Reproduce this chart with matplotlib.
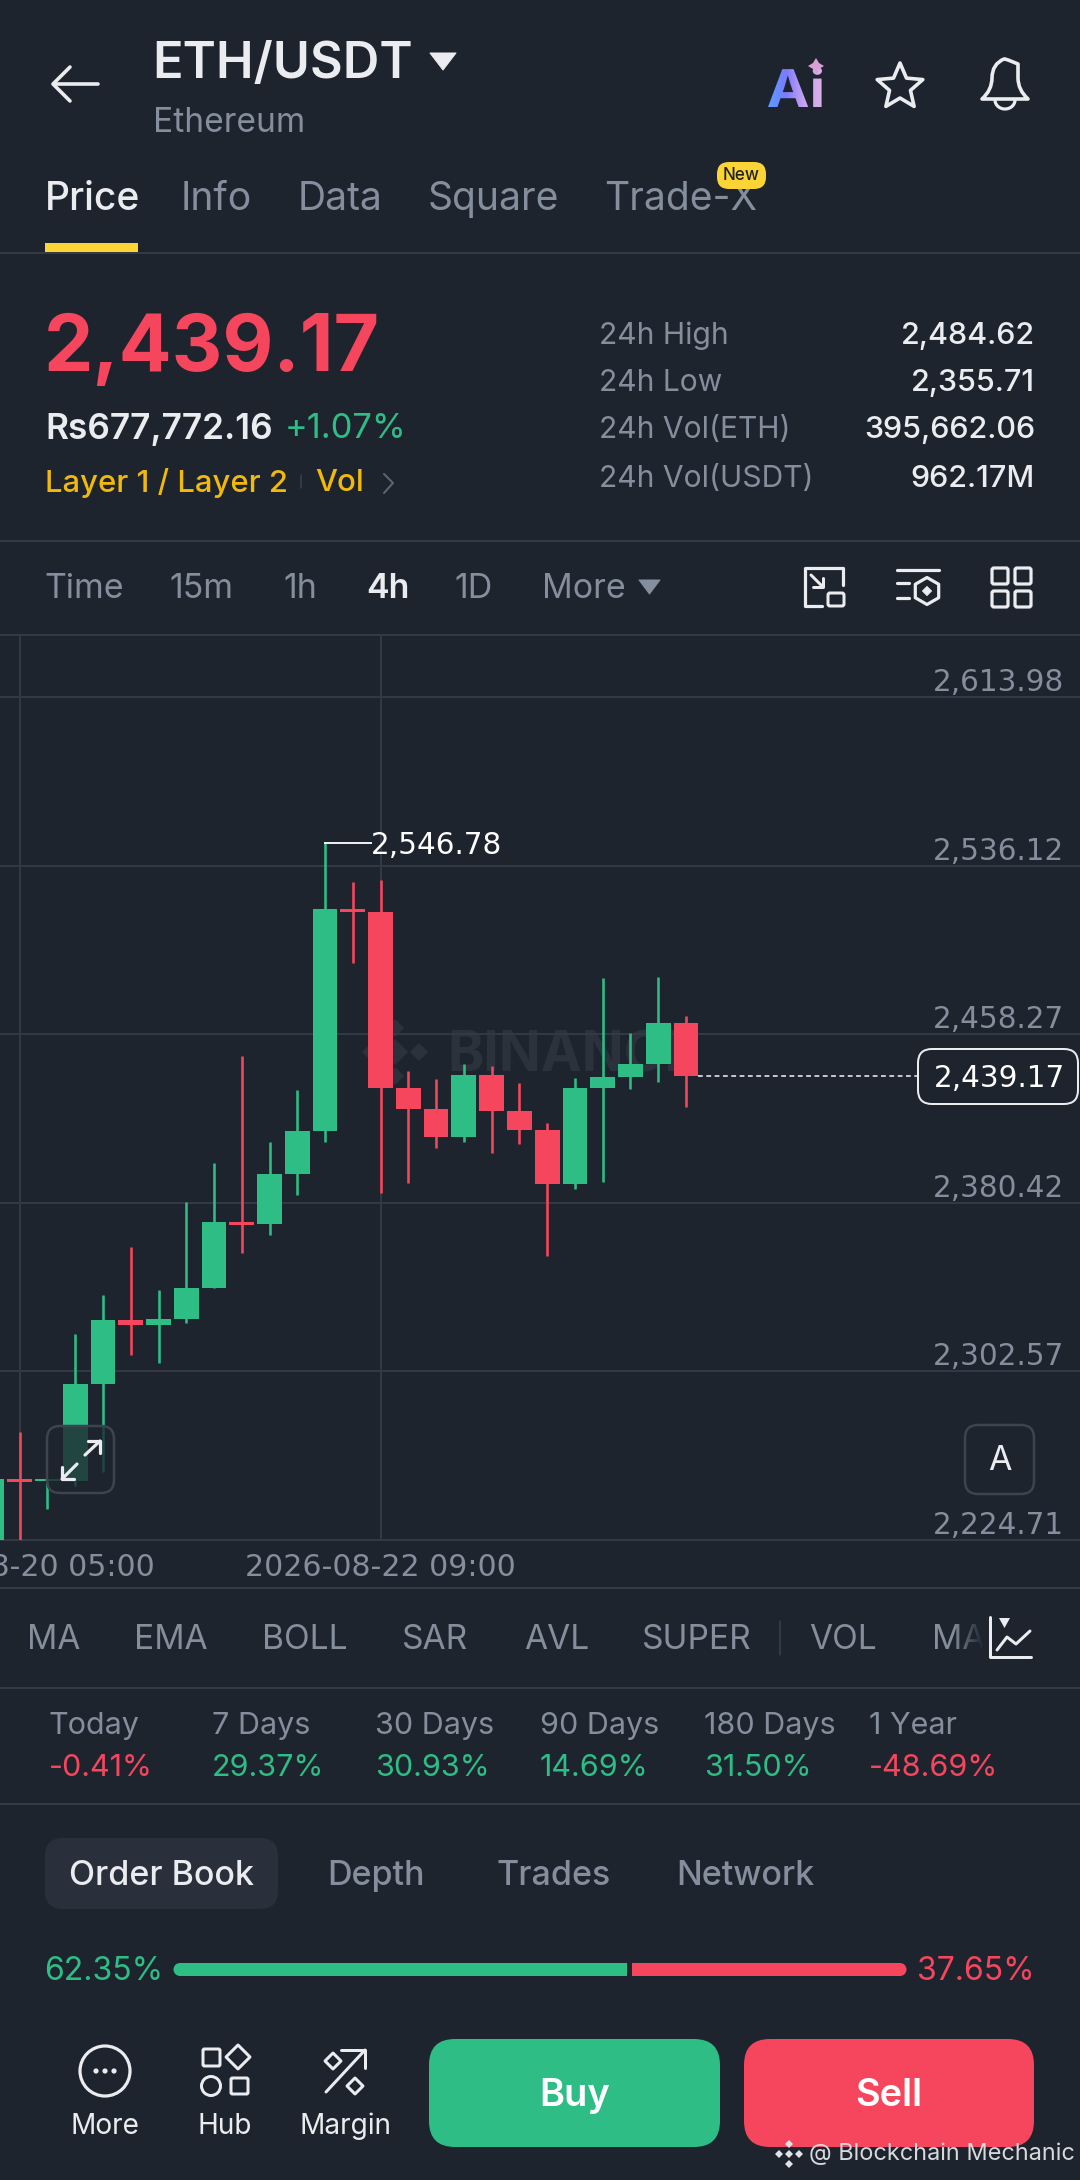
import numpy as np
import matplotlib
matplotlib.use("Agg")
import matplotlib.pyplot as plt
from matplotlib.patches import FancyBboxPatch, Circle, Polygon, Rectangle, PathPatch
from matplotlib.path import Path
from matplotlib.textpath import TextPath
from matplotlib.font_manager import FontProperties

plt.rcParams['font.family'] = ['Inter', 'Noto Sans', 'DejaVu Sans']

# ---- data ----
opens  = [2215.0, 2252.9, 2251.8, 2252.2, 2296.7, 2326.5, 2324.0, 2326.9, 2341.2, 2371.7, 2370.6, 2393.8, 2413.5,
          2516.2, 2514.8, 2433.4, 2424.0, 2411.0, 2439.5, 2422.7, 2414.0, 2389.3, 2433.6, 2438.8, 2444.8, 2463.4]
closes = [2253.1, 2251.5, 2252.7, 2296.7, 2326.5, 2324.0, 2326.9, 2341.2, 2371.7, 2370.1, 2393.8, 2413.5, 2516.2,
          2514.8, 2433.4, 2424.0, 2411.0, 2439.5, 2422.7, 2414.0, 2389.3, 2433.6, 2438.8, 2444.8, 2463.4, 2439.17]
highs  = [2253.1, 2274.6, 2252.7, 2320.0, 2338.1, 2360.3, 2340.1, 2381.1, 2398.7, 2448.2, 2408.6, 2432.5, 2546.78,
          2528.7, 2529.8, 2441.2, 2437.7, 2444.6, 2443.7, 2435.7, 2417.3, 2438.3, 2484.2, 2459.1, 2484.6, 2466.7]
lows   = [2215.0, 2220.0, 2239.0, 2249.5, 2256.2, 2310.4, 2306.6, 2325.1, 2341.2, 2357.1, 2365.4, 2384.0, 2408.8,
          2491.1, 2384.9, 2389.6, 2405.7, 2408.8, 2403.4, 2407.9, 2355.8, 2386.9, 2390.0, 2433.0, 2436.3, 2424.7]
price_ticks = [2613.98, 2536.12, 2458.27, 2380.42, 2302.57, 2224.71]
time_ticks = [1, 14]
time_labels = ['2026-08-20 05:00', '2026-08-22 09:00']
last_price = 2439.17
peak_price = 2546.78

stats_labels = ['24h High', '24h Low', '24h Vol(ETH)', '24h Vol(USDT)']
stats_values = ['2,484.62', '2,355.71', '395,662.06', '962.17M']
tab_names = ['Price', 'Info', 'Data', 'Square', 'Trade-X']
range_names = ['Time', '15m', '1h', '4h', '1D', 'More']
indicator_names = ['MA', 'EMA', 'BOLL', 'SAR', 'AVL', 'SUPER', 'VOL', 'MA']
period_names = ['Today', '7 Days', '30 Days', '90 Days', '180 Days', '1 Year']
period_values = [-0.41, 29.37, 30.93, 14.69, 31.50, -48.69]
book_tabs = ['Order Book', 'Depth', 'Trades', 'Network']
bid_pct = 62.35
ask_pct = 37.65

BG = '#1e242e'
GREEN = '#2ebd85'
RED = '#f6465d'
GREY = '#848e9c'
WHITE = '#eaecef'
GRID = '#323945'
DIV = '#333a45'
YELLOW = '#f0b90b'
NUMFONT = 'DejaVu Sans'

W, H = 1080, 2180
fig = plt.figure(figsize=(W / 100, H / 100), dpi=100, facecolor=BG)

# background layer (chart watermark)
bg = fig.add_axes([0, 0, 1, 1], zorder=0)
bg.set_xlim(0, W); bg.set_ylim(H, 0); bg.axis('off')


def px(v):
    return v * 0.72


for dx, dy, s in [(0, 0, 13), (-24, 0, 9), (24, 0, 9), (0, -24, 9), (0, 24, 9)]:
    bg.add_patch(Polygon([(395 + dx - s, 1052 + dy), (395 + dx, 1052 + dy - s), (395 + dx + s, 1052 + dy), (395 + dx, 1052 + dy + s)],
                         fc='#2b323c', ec='none'))
bg.text(447, 1057, 'BINANCE', fontsize=px(55), color='#2b323c', fontweight='bold', va='center', ha='left')
tag = FancyBboxPatch((918, 1049), 160, 55, boxstyle='round,pad=0,rounding_size=14', fc=BG, ec=WHITE, lw=px(2), zorder=5)
bg.add_patch(tag)

# ---- candle chart ----
top_px, bot_px = 635, 1540
units_per_px = 77.85 / 168.5
ax = fig.add_axes([0, (H - bot_px) / H, 1, (bot_px - top_px) / H], zorder=1, facecolor='none')
ymin = 2224.71
ymax = ymin + (bot_px - top_px) * units_per_px
step = 27.76
xmin = 1 - 19.7 / step
xmax = xmin + W / step
ax.set_xlim(xmin, xmax)
ax.set_ylim(ymin, ymax)

xs = np.arange(len(opens))
colors = [GREEN if c >= o else RED for o, c in zip(opens, closes)]
ax.vlines(xs, lows, highs, colors=colors, linewidth=px(2.6), zorder=3)
ax.bar(xs, np.abs(np.array(closes) - np.array(opens)), bottom=np.minimum(opens, closes),
       width=0.893, color=colors, linewidth=0, zorder=4)

ax.set_yticks(price_ticks)
ax.set_yticklabels([f'{v:,.2f}' for v in price_ticks], family=NUMFONT)
ax.yaxis.tick_right()
ax.tick_params(axis='y', length=0, pad=-11.5, labelsize=px(29.5), labelcolor=GREY)
for lab in ax.get_yticklabels():
    lab.set_ha('right')
    lab.set_va('bottom')
ax.set_xticks(time_ticks)
ax.set_xticklabels(time_labels, family=NUMFONT)
ax.tick_params(axis='x', length=0, pad=9.5, labelsize=px(30), labelcolor=GREY)
ax.grid(True, color=GRID, linewidth=px(2), zorder=1)
for name, sp in ax.spines.items():
    sp.set_visible(name in ('top', 'bottom'))
    sp.set_color(GRID)
    sp.set_linewidth(px(2))

# peak marker
peak_x = int(np.argmax(highs))
ax.plot([peak_x, peak_x + 46 / step], [peak_price, peak_price], color=WHITE, lw=px(2), zorder=3)
ax.text(peak_x + 46 / step, peak_price, f'{peak_price:,.2f}', color='white', fontsize=px(29.5), family=NUMFONT,
        va='center_baseline', ha='left', zorder=5)

# last price dashed line & tag text
tag_x = xmin + 918 / W * (xmax - xmin)
ax.plot([xs[-1] + 0.45, tag_x], [last_price, last_price], color=WHITE, lw=px(1.6), dashes=(3, 2.2), zorder=3)
ax.text(1065 / W, last_price, f'{last_price:,.2f}', transform=ax.get_yaxis_transform(), color='white',
        fontsize=px(29.5), family=NUMFONT, ha='right', va='center_baseline', zorder=6)

# ---- UI overlay ----
ui = fig.add_axes([0, 0, 1, 1], zorder=3, facecolor='none')
ui.set_xlim(0, W); ui.set_ylim(H, 0); ui.axis('off')


def T(x, y, s, size, color=WHITE, ha='left', weight='normal', z=5):
    return ui.text(x, y + 5, s, fontsize=px(size), color=color, ha=ha, va='center', fontweight=weight, zorder=z)


def L(pts, lw=3, color=WHITE, z=5):
    a = np.array(pts, float)
    ui.plot(a[:, 0], a[:, 1], color=color, lw=px(lw), solid_capstyle='round', solid_joinstyle='round', zorder=z)


def RR(x0, y0, x1, y1, r, fc='none', ec='none', lw=0, z=4):
    ui.add_patch(FancyBboxPatch((x0, y0), x1 - x0, y1 - y0, boxstyle=f'round,pad=0,rounding_size={r}',
                                fc=fc, ec=ec, lw=px(lw), zorder=z))


def diamond(cx, cy, r, fc='none', ec=WHITE, lw=3, z=5):
    ui.add_patch(Polygon([(cx - r, cy), (cx, cy - r), (cx + r, cy), (cx, cy + r)], closed=True, fc=fc, ec=ec, lw=px(lw),
                         joinstyle='round', zorder=z))


# header
L([(98, 84), (54, 84)], 3.6)
L([(70, 67), (53, 84), (70, 101)], 3.6)
T(152, 60, 'ETH/USDT', 50.5, WHITE, weight='semibold')
ui.add_patch(Polygon([(430, 53), (456, 53), (443, 70)], fc=WHITE, ec=WHITE, lw=px(1), joinstyle='round'))
T(153, 118, 'Ethereum', 33.5, GREY)

# Ai logo with gradient
grad = np.linspace(0, 1, 64).reshape(1, -1)
fp = FontProperties(family='Inter', weight='bold', size=52)
cmap = matplotlib.colors.LinearSegmentedColormap.from_list('ai', ['#5b9dff', '#7a7bff', '#c9a3f0', '#d9aee8'])
tp = TextPath((0, 0), 'Ai', prop=fp)
bb = tp.get_extents()
sx = (822 - 768) / bb.width
sy = (107 - 67) / bb.height
verts = np.column_stack([768 + (tp.vertices[:, 0] - bb.x0) * sx, 107 - (tp.vertices[:, 1] - bb.y0) * sy])
clip = PathPatch(Path(verts, tp.codes), fc='none', ec='none', transform=ui.transData)
ui.add_patch(clip)
im = ui.imshow(grad, extent=(768, 822, 107, 60), cmap=cmap, aspect='auto', zorder=5)
im.set_clip_path(clip)
ui.add_patch(Polygon([(816, 58), (819, 63), (824, 66), (819, 69), (816, 74), (813, 69), (808, 66), (813, 63)], fc='#d9a0d8', ec='none', zorder=6))
ui.set_xlim(0, W); ui.set_ylim(H, 0)

# star
ang = np.deg2rad(np.arange(0, 360, 36) - 90)
rad = np.where(np.arange(10) % 2 == 0, 24, 11)
ui.add_patch(Polygon(np.column_stack([900 + rad * np.cos(ang), 87 + rad * np.sin(ang)]), closed=True, fc='none', ec=WHITE,
                     lw=px(3.6), joinstyle='round', zorder=5))
# bell
bell = Path([(982, 99), (992, 90), (992, 78), (992, 78), (992, 64), (1004, 59), (1005, 59), (1006, 59), (1018, 64), (1018, 78),
             (1018, 90), (1028, 99), (1028, 99), (982, 99)],
            [Path.MOVETO, Path.CURVE3, Path.CURVE3, Path.LINETO, Path.CURVE3, Path.CURVE3, Path.LINETO, Path.CURVE3, Path.CURVE3,
             Path.LINETO, Path.CURVE3, Path.CURVE3, Path.LINETO, Path.CLOSEPOLY])
ui.add_patch(PathPatch(bell, fc='none', ec=WHITE, lw=px(3.6), joinstyle='round', zorder=5))
t = np.linspace(0, np.pi, 20)
L(np.column_stack([1005 + 10 * np.cos(t), 100 + 9 * np.sin(t)]), 3.2)

# tabs
for name, x in zip(tab_names, [45, 181, 298, 428, 604]):
    T(x, 194, name, 39, WHITE if name == 'Price' else GREY, weight='medium' if name == 'Price' else 'normal')
ui.add_patch(Rectangle((45, 243), 93, 9, fc='#fcd535', ec='none', zorder=5))
ui.plot([0, W], [253, 253], color=DIV, lw=px(2))
RR(717, 162, 766, 189, 12, fc='#fcd535', z=6)
T(741.5, 170.5, 'New', 17, '#1e2329', ha='center', weight='medium', z=7)

# price block
T(44, 345, '2,439.17', 78.5, RED, weight='bold')
T(45, 424, 'Rs677,772.16', 35.3, WHITE, weight='semibold')
T(285, 424, '+1.07%', 34.5, GREEN)
T(45, 478, 'Layer 1 / Layer 2', 31, YELLOW, weight='medium')
L([(301, 475), (301, 488)], 1.5, '#3a414d')
T(315, 478, 'Vol', 31, YELLOW, weight='medium')
L([(384, 474), (393, 483), (384, 493)], 2, '#5e6673')
for lab, val, y in zip(stats_labels, stats_values, [331, 378, 425, 474]):
    T(599, y, lab, 30, GREY)
    T(1035, y, val, 30.5, WHITE, ha='right', weight='medium')
ui.plot([0, W], [541, 541], color=DIV, lw=px(2))

# range row
for name, x in zip(range_names, [44, 169, 283, 366, 454, 542]):
    T(x, 584, name, 34, WHITE if name == '4h' else GREY, weight='semibold' if name == '4h' else 'normal')
ui.add_patch(Polygon([(639, 580), (660, 580), (649.5, 594)], fc=GREY, ec=GREY, lw=px(1), joinstyle='round'))
# icon: resize
L([(843, 585), (843, 568), (805, 568), (805, 606), (822, 606)], 3.2)
RR(828, 593, 844, 606, 2, ec=WHITE, lw=3, z=5)
L([(811, 575), (823, 587)], 3); L([(823, 578), (823, 587), (813, 587)], 3)
# icon: hex
L([(897, 570), (939, 570)], 3.2); L([(897, 583), (909, 583)], 3.2); L([(897, 598), (909, 598)], 3.2)
a = np.deg2rad(np.arange(0, 360, 60) + 30)
ui.add_patch(Polygon(np.column_stack([927 + 13.5 * np.cos(a), 591 + 13.5 * np.sin(a)]), closed=True, fc='none', ec=WHITE,
                     lw=px(3.2), joinstyle='round', zorder=5))
diamond(927, 591, 4.5, fc=WHITE, lw=1)
# icon: grid
for x0 in (992, 1015):
    for y0 in (568, 591):
        RR(x0, y0, x0 + 16, y0 + 16, 2, ec=WHITE, lw=3.2, z=5)

# expand and auto buttons over chart
RR(47, 1426, 114, 1493, 13, fc=BG + 'c8', ec='#3d444f', lw=2.5)
L([(85, 1455), (100, 1441)], 3.2); L([(88, 1441), (100, 1441), (100, 1453)], 3.2)
L([(77, 1464), (62, 1479)], 3.2); L([(62, 1467), (62, 1479), (74, 1479)], 3.2)
RR(965, 1425, 1034, 1494, 13, fc=BG, ec='#3d444f', lw=2.5)
T(999.5, 1456, 'A', 34, WHITE, ha='center')

# indicators
ui.plot([0, W], [1588, 1588], color=DIV, lw=px(2))
for name, x in zip(indicator_names, [27, 134, 262, 402, 524, 642, 809, 932]):
    T(x, 1635, name, 33.5, GREY)
L([(780, 1621), (780, 1655)], 1.5, '#3a414d')
fade = np.zeros((1, 32, 4))
fade[..., :3] = matplotlib.colors.to_rgb(BG)
fade[..., 3] = np.linspace(0, 1, 32)
ui.imshow(fade, extent=(952, 984, 1660, 1615), aspect='auto', zorder=6)
ui.add_patch(Rectangle((984, 1612), 55, 50, fc=BG, ec='none', zorder=6))
ui.set_xlim(0, W); ui.set_ylim(H, 0)
L([(990, 1617), (990, 1657), (1031, 1657)], 3, z=7)
L([(997, 1650), (1007, 1637), (1016, 1644), (1030, 1631)], 3, z=7)
ui.add_patch(Polygon([(999, 1618), (1010, 1618), (1004.5, 1628)], fc=WHITE, ec='none', zorder=7))
ui.plot([0, W], [1688, 1688], color=DIV, lw=px(2))

# periods
for name, v, x in zip(period_names, period_values, [49, 212, 375, 540, 704, 869]):
    T(x, 1721, name, 30.5, GREY)
    T(x, 1763, f'{v:.2f}%', 30.5, GREEN if v >= 0 else RED)
ui.plot([0, W], [1804, 1804], color=DIV, lw=px(2))

# order book tabs
RR(45, 1838, 278, 1909, 18, fc='#2a303b')
for name, x in zip(book_tabs, [69, 327, 497, 676]):
    T(x, 1871, name, 34, WHITE if name == 'Order Book' else GREY, weight='medium', z=5)

# ratio bar
bar_l, bar_r, gap = 174, 906, 5
mid = bar_l + (bar_r - bar_l) * bid_pct / (bid_pct + ask_pct)
T(44, 1966, f'{bid_pct:.2f}%', 32, GREEN)
T(1035, 1966, f'{ask_pct:.2f}%', 32, RED, ha='right')
ui.add_patch(Rectangle((bar_l + 6, 1963), mid - bar_l - 6 - gap + 2, 13, fc=GREEN, ec='none'))
ui.add_patch(Circle((bar_l + 6, 1969.5), 6.5, fc=GREEN, ec='none'))
ui.add_patch(Rectangle((mid + 2, 1963), bar_r - mid - 8, 13, fc=RED, ec='none'))
ui.add_patch(Circle((bar_r - 6, 1969.5), 6.5, fc=RED, ec='none'))

# bottom actions
ui.add_patch(Circle((105, 2071), 25, fc='none', ec=WHITE, lw=px(3.2)))
for dx in (-9, 0, 9):
    ui.add_patch(Circle((105 + dx, 2071), 2.6, fc=WHITE, ec='none'))
RR(203, 2049, 220, 2066, 1.5, ec=WHITE, lw=3, z=5)
diamond(238, 2057, 12, lw=3)
ui.add_patch(Circle((211, 2086), 9.5, fc='none', ec=WHITE, lw=px(3)))
RR(231, 2078, 248, 2094, 1.5, ec=WHITE, lw=3, z=5)
L([(326, 2092), (365, 2050)], 3); L([(341, 2050), (365, 2050), (365, 2068)], 3)
diamond(333, 2061, 8, lw=3); diamond(355, 2086, 8, lw=3)
T(105, 2121, 'More', 28, WHITE, ha='center')
T(225, 2121, 'Hub', 28, WHITE, ha='center')
T(345, 2121, 'Margin', 28, WHITE, ha='center')

RR(429, 2039, 720, 2147, 26, fc=GREEN)
T(574.5, 2091, 'Buy', 38, 'white', ha='center', weight='semibold')
RR(744, 2039, 1034, 2147, 26, fc=RED)
T(889, 2091, 'Sell', 38, 'white', ha='center', weight='semibold')

# credit
for dx, dy, s in [(0, 0, 4), (-10, 0, 4), (10, 0, 4), (0, -10, 4), (0, 10, 4)]:
    diamond(789 + dx, 2154 + dy, s, fc='#dfe3e8', ec='none', lw=0, z=8)
T(809, 2149, '@ Blockchain Mechanic', 23.5, '#d5d8dc', z=8)

fig.savefig('out.png', dpi=100, facecolor=BG)
